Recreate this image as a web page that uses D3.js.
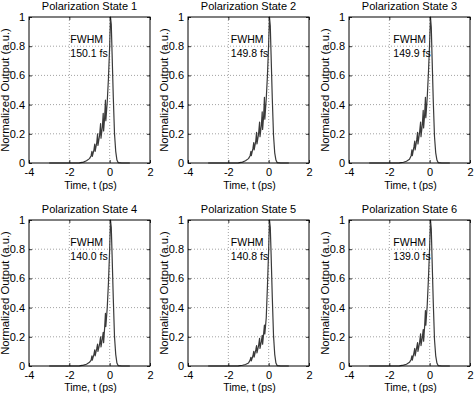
<!DOCTYPE html>
<html>
<head>
<meta charset="utf-8">
<script src="https://cdn.jsdelivr.net/npm/d3@7"></script>
<style>
  html, body { margin: 0; padding: 0; background: #fff; }
  svg { display: block; font-family: "Liberation Sans", Arial, sans-serif; }
</style>
</head>
<body>
<svg id="chart" width="474" height="393"></svg>
<script>
// ---- data ----
const panelTitles = ["Polarization State 1", "Polarization State 2", "Polarization State 3",
                     "Polarization State 4", "Polarization State 5", "Polarization State 6"];
const fwhmLabels = ["150.1 fs", "149.8 fs", "149.9 fs", "140.0 fs", "140.8 fs", "139.0 fs"];
const xTicks = [-4, -2, 0, 2];
const yTicks = [0, 0.2, 0.4, 0.6, 0.8, 1];
const timePs = [-3.0, -2.0, -1.5, -1.3, -1.15, -1.0, -0.92, -0.88, -0.86, -0.78, -0.74, -0.72,
                -0.64, -0.60, -0.58, -0.50, -0.45, -0.43, -0.36, -0.32, -0.30, -0.25, -0.21, -0.19,
                -0.12, -0.06, 0.0, 0.04, 0.08, 0.12, 0.18, 0.24, 0.30, 0.36, 0.42, 0.6, 1.0];
const outputState1 = [0,0,0.001,0.006,0.015,0.03,0.05,0.08,0.045,0.09,0.13,0.08,0.14,0.20,0.12,0.19,0.27,0.17,0.25,0.34,0.22,0.31,0.43,0.29,0.42,0.58,0.8,1.0,0.95,0.75,0.45,0.2,0.08,0.02,0.003,0,0];
const outputState2 = [0,0,0.001,0.006,0.015,0.03,0.05,0.08,0.05,0.1,0.14,0.09,0.15,0.21,0.13,0.2,0.28,0.18,0.26,0.35,0.23,0.32,0.45,0.3,0.44,0.6,0.82,1.0,0.94,0.74,0.44,0.19,0.07,0.02,0.003,0,0];
const outputState3 = [0,0,0.001,0.005,0.012,0.025,0.05,0.09,0.05,0.11,0.15,0.09,0.16,0.21,0.13,0.21,0.28,0.18,0.27,0.36,0.24,0.33,0.45,0.31,0.45,0.62,0.83,1.0,0.93,0.72,0.42,0.18,0.07,0.02,0.003,0,0];
const outputState4 = [0,0,0.001,0.006,0.012,0.025,0.04,0.07,0.04,0.08,0.11,0.07,0.12,0.15,0.1,0.15,0.2,0.13,0.19,0.23,0.16,0.26,0.36,0.27,0.4,0.57,0.8,1.0,0.95,0.76,0.46,0.2,0.08,0.02,0.003,0,0];
const outputState5 = [0,0,0.001,0.005,0.01,0.02,0.04,0.06,0.035,0.07,0.1,0.06,0.11,0.14,0.09,0.14,0.19,0.12,0.17,0.21,0.15,0.22,0.28,0.22,0.33,0.55,0.8,1.0,0.95,0.77,0.47,0.21,0.08,0.02,0.003,0,0];
const outputState6 = [0,0,0.001,0.006,0.012,0.025,0.045,0.07,0.04,0.09,0.12,0.07,0.13,0.16,0.1,0.16,0.22,0.14,0.2,0.25,0.17,0.27,0.38,0.28,0.42,0.6,0.82,1.0,0.94,0.73,0.43,0.18,0.07,0.02,0.003,0,0];
const allOutputs = [outputState1, outputState2, outputState3, outputState4, outputState5, outputState6];

// ---- layout ----
const svg = d3.select("#chart");
const colLeft = [29, 188, 349];
const rowTop = [17, 220];
const pw = 121, ph = 146;

panelTitles.forEach((title, i) => {
  const r = Math.floor(i / 3), c = i % 3;
  const g = svg.append("g").attr("transform", `translate(${colLeft[c]},${rowTop[r]})`);
  const x = d3.scaleLinear().domain([-4, 2]).range([0, pw]);
  const y = d3.scaleLinear().domain([0, 1]).range([ph, 0]);

  // grid
  g.selectAll(".gx").data(xTicks.filter(t => t > -4 && t < 2)).enter().append("line")
    .attr("x1", d => x(d)).attr("x2", d => x(d)).attr("y1", 0).attr("y2", ph)
    .attr("stroke", "#8a8a8a").attr("stroke-width", 0.8).attr("stroke-dasharray", "1,2");
  g.selectAll(".gy").data(yTicks.filter(t => t > 0 && t < 1)).enter().append("line")
    .attr("y1", d => y(d)).attr("y2", d => y(d)).attr("x1", 0).attr("x2", pw)
    .attr("stroke", "#8a8a8a").attr("stroke-width", 0.8).attr("stroke-dasharray", "1,2");

  // curve
  const pts = timePs.map((t, k) => [t, allOutputs[i][k]]);
  g.append("path").datum(pts)
    .attr("d", d3.line().x(d => x(d[0])).y(d => y(d[1])))
    .attr("fill", "none").attr("stroke", "#3a3a3a").attr("stroke-width", 1.2)
    .attr("stroke-linejoin", "round");

  // axes
  const ax = g.append("g").attr("transform", `translate(0,${ph})`)
    .call(d3.axisBottom(x).tickValues(xTicks).tickSize(-3).tickSizeOuter(0).tickPadding(5).tickFormat(d3.format("d")));
  const ay = g.append("g")
    .call(d3.axisLeft(y).tickValues(yTicks).tickSize(-3).tickSizeOuter(0).tickPadding(4).tickFormat(d => d === 0 || d === 1 ? String(d) : d3.format(".1f")(d)));
  g.append("g").call(d3.axisTop(x).tickValues(xTicks).tickSize(-3).tickSizeOuter(0).tickFormat(""));
  g.append("g").attr("transform", `translate(${pw},0)`)
    .call(d3.axisRight(y).tickValues(yTicks).tickSize(-3).tickSizeOuter(0).tickFormat(""));
  g.selectAll(".domain").remove();
  g.selectAll(".tick line").attr("stroke", "#000").attr("stroke-width", 0.8);
  [ax, ay].forEach(a => a.selectAll("text").attr("font-size", "11px").attr("fill", "#000")
    .attr("font-family", "Liberation Sans, Arial, sans-serif"));
  ax.selectAll("text").text(d => d < 0 ? "-" + Math.abs(d) : String(d));

  // frame
  g.append("rect").attr("width", pw).attr("height", ph)
    .attr("fill", "none").attr("stroke", "#000").attr("stroke-width", 1);

  // title
  g.append("text").attr("x", pw / 2).attr("y", -7.5).attr("text-anchor", "middle")
    .attr("font-size", "11px").attr("fill", "#000").text(title);

  // x label
  g.append("text").attr("x", pw / 2 + 1).attr("y", ph + (r === 0 ? 26 : 25)).attr("text-anchor", "middle")
    .attr("font-size", "10.5px").attr("fill", "#000").text("Time, t (ps)");

  // y label
  g.append("text").attr("transform", `translate(-20.5,${ph / 2}) rotate(-90)`)
    .attr("text-anchor", "middle").attr("font-size", "11.3px").attr("fill", "#000")
    .text("Normalized Output (a.u.)");

  // FWHM annotation
  const fx = x(-1.95) + (c * 1.5);
  g.append("text").attr("x", fx).attr("y", y(0.825)).attr("font-size", "10.5px").attr("fill", "#000").text("FWHM");
  g.append("text").attr("x", fx).attr("y", y(0.725)).attr("font-size", "10.5px").attr("fill", "#000").text(fwhmLabels[i]);
});
</script>
</body>
</html>
